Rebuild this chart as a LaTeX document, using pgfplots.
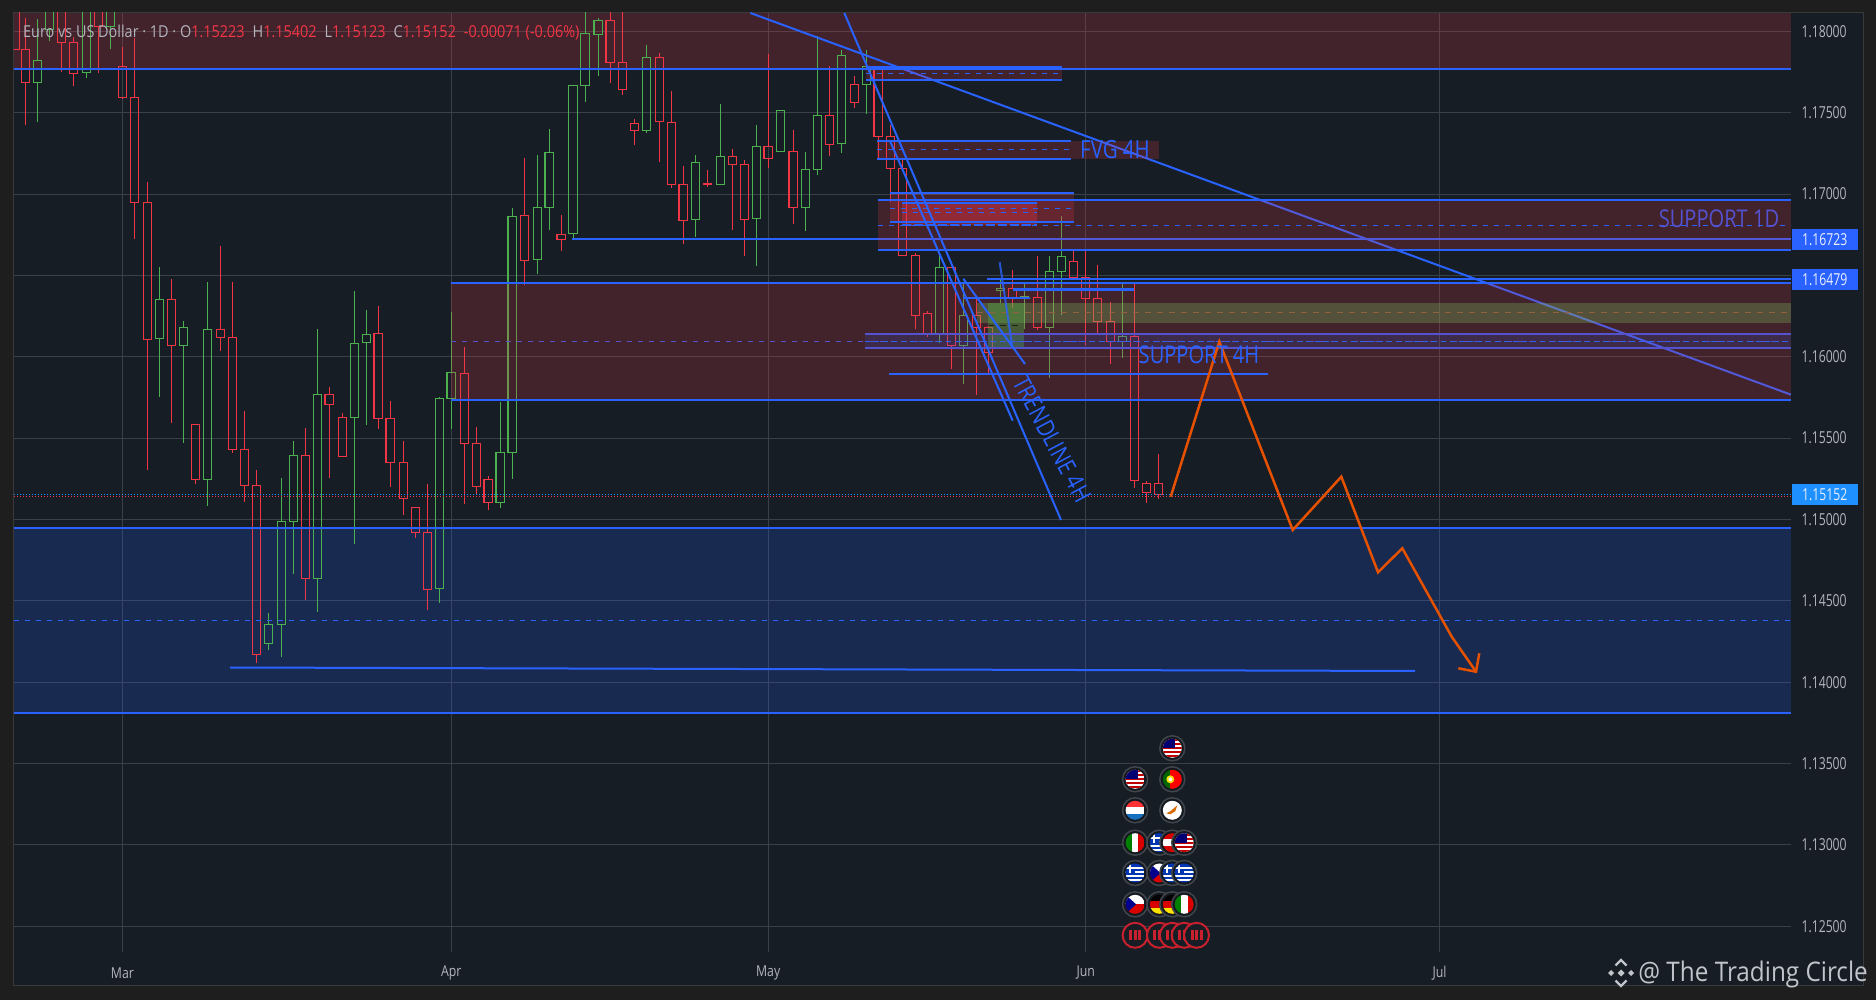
\documentclass[border=0pt]{standalone}
\usepackage{pgfplots}
\pgfplotsset{compat=1.18}
\usepackage{fontspec}
\setmainfont{Open Sans}
\newfontfamily\tv[FakeStretch=0.82]{Open Sans}
\newfontfamily\hd[FakeStretch=0.88]{Open Sans}
\newfontfamily\tvn[FakeStretch=0.74]{Open Sans}
\newfontfamily\wm[FakeStretch=0.9]{Open Sans}
\definecolor{outer}{HTML}{1E1E1E}
\definecolor{panel}{HTML}{161D25}
\definecolor{gridc}{HTML}{3A4047}
\definecolor{cr}{HTML}{F23645}
\definecolor{cg}{HTML}{4CAF50}
\definecolor{bl}{HTML}{2962FF}
\definecolor{lastp}{HTML}{1E90FF}
\definecolor{evr}{HTML}{C8202D}
\definecolor{pu}{HTML}{5552D0}
\definecolor{txt}{HTML}{B2B5BE}
\definecolor{orng}{HTML}{E65100}
\definecolor{oliv}{RGB}{126,190,95}
\definecolor{gsq}{RGB}{76,175,70}
\newcommand\Body[6]{%
  \pgfmathsetmacro\xa{#2-4.2}\pgfmathsetmacro\xb{#2+4.2}%
  \edef\tmp{\noexpand\addplot[#1,line width=1.1pt,unbounded coords=jump] coordinates {(#2,#3)(#2,#4)(#2,nan)(\xa,#4)(\xb,#4)(\xb,#5)(\xa,#5)(\xa,#4)(\xa,nan)(#2,#5)(#2,#6)};}\tmp}
\newcommand\R[5]{\Body{cr}{#1}{#3}{#2}{#5}{#4}}
\newcommand\G[5]{\Body{cg}{#1}{#3}{#5}{#2}{#4}}
\newcommand\Zone[6]{\addplot[draw=none,fill=#5,fill opacity=#6] coordinates {(#1,#3)(#2,#3)(#2,#4)(#1,#4)} --cycle;}
\newcommand\HL[4][bl,line width=2pt]{\addplot[#1] coordinates {(#2,#4)(#3,#4)};}
\newcommand\DL[3]{\addplot[bl,line width=1pt,dash pattern=on 5pt off 6pt] coordinates {(#1,#3)(#2,#3)};}
% flags
\newcommand\ring[2]{\fill[fill=black!15!panel,draw=white!18!panel,line width=1.5pt] (#1,{1000-#2}) circle (12.5);}
\newcommand\flag[3]{\ring{#1}{#2}\begin{scope}\clip (#1,{1000-#2}) circle (9.5);\begin{scope}[shift={(#1,{1000-#2})}]#3\end{scope}\end{scope}}
\newcommand\US{\fill[white] (-10,-10) rectangle (10,10);\foreach \k in {-9,-5,-1,3,7}{\fill[red!75!black] (-10,\k) rectangle (10,\k+2);}\fill[blue!45!black] (-10,0) rectangle (3,10);}
\newcommand\IT{\fill[green!50!black] (-10,-10) rectangle (-3.3,10);\fill[white] (-3.3,-10) rectangle (3.3,10);\fill[red!85!black] (3.3,-10) rectangle (10,10);}
\newcommand\GR{\fill[blue!70!cyan!70!black] (-10,-10) rectangle (10,10);\foreach \k in {-8,-4,0,4}{\fill[white] (-10,\k) rectangle (10,\k+2);}\fill[blue!70!cyan!70!black] (-10,0) rectangle (0,10);\fill[white] (-10,4) rectangle (0,6);\fill[white] (-6,0) rectangle (-4,10);}
\newcommand\DE{\fill[black] (-10,3.3) rectangle (10,10);\fill[red!85!black] (-10,-3.3) rectangle (10,3.3);\fill[yellow!85!orange] (-10,-10) rectangle (10,-3.3);}
\newcommand\CZ{\fill[white] (-10,0) rectangle (10,10);\fill[red!85!black] (-10,-10) rectangle (10,0);\fill[blue!55!black] (-10,10)--(1,0)--(-10,-10)--cycle;}
\newcommand\LU{\fill[red!80] (-10,3.3) rectangle (10,10);\fill[white] (-10,-3.3) rectangle (10,3.3);\fill[cyan!50!blue] (-10,-10) rectangle (10,-3.3);}
\newcommand\PT{\fill[green!40!black] (-10,-10) rectangle (-2,10);\fill[red] (-2,-10) rectangle (10,10);\fill[yellow!80!orange] (-2,0) circle (4);\fill[white] (-2,0) circle (2);}
\newcommand\CY{\fill[white] (-10,-10) rectangle (10,10);\fill[orange!85!black] (-6,-3)--(-2,-1)--(5,5)--(3,-1)--(-2,-4)--cycle;}
\newcommand\AT{\fill[red!85!black] (-10,-10) rectangle (10,10);\fill[white] (-10,-3.3) rectangle (10,3.3);}
\newcommand\ev[1]{\fill[fill=panel,draw=evr,line width=2pt] (#1,{1000-935.3}) circle (12.5);\begin{scope}[shift={(#1,{1000-935.3})}]\fill[evr] (-6,-5) rectangle (-3,5);\fill[evr] (-1.5,-5) rectangle (1.5,5);\fill[evr] (3,-5) rectangle (6,5);\end{scope}}
\begin{document}
\begin{tikzpicture}[x=1pt,y=1pt]
\useasboundingbox (0,0) rectangle (1876,1000);
\fill[outer] (0,0) rectangle (1876,1000);
\fill[panel,draw=white!12!outer,line width=1pt] (13.5,14) rectangle (1863,987);
\begin{axis}[
  at={(13.5pt,987pt)},anchor=north west,scale only axis,width=1777.5pt,height=939pt,
  xmin=13.5,xmax=1791,ymin=1.123423,ymax=1.181125,
  axis line style={draw=none},tick style={draw=none},
  grid=major,grid style={gridc,line width=1pt},
  xtick={122.4,451.2,768.2,1085.7,1439.6},xticklabels={Mar,Apr,May,Jun,Jul},
  ytick={1.125,1.13,1.135,1.14,1.145,1.15,1.155,1.16,1.165,1.17,1.175,1.18},
  yticklabels={1.12500,1.13000,1.13500,1.14000,1.14500,1.15000,1.15500,1.16000,,1.17000,1.17500,1.18000},
  yticklabel pos=right,
  yticklabel style={font=\fontsize{16.5}{16.5}\selectfont\tvn,text=txt,anchor=west,xshift=7pt},
  xticklabel style={font=\fontsize{15}{15}\selectfont\tv,text=txt,anchor=center,yshift=-21pt},
]
% zones beneath candles
\Zone{13.5}{1791}{1.181125}{1.177702}{cr}{0.2}
\Zone{13.5}{1791}{1.149478}{1.13811}{bl}{0.2}
% candles: x, open, high, low, close
\R{15.1}{1.18200}{1.18200}{1.17889}{1.17889}
\R{25.5}{1.17889}{1.18080}{1.17425}{1.17687}
\G{37.5}{1.17687}{1.18076}{1.17445}{1.17822}
\G{49.4}{1.18012}{1.18200}{1.17943}{1.18200}
\R{61.4}{1.18200}{1.18200}{1.17752}{1.17930}
\R{73.3}{1.17932}{1.17963}{1.17666}{1.17742}
\G{86.5}{1.17748}{1.18200}{1.17715}{1.18200}
\R{98.4}{1.18200}{1.18200}{1.17746}{1.18029}
\G{110.4}{1.18031}{1.18200}{1.17894}{1.18200}
\R{122.4}{1.17785}{1.17906}{1.17582}{1.17595}
\R{134.3}{1.17595}{1.17957}{1.16726}{1.16949}
\R{147.5}{1.16949}{1.17074}{1.15305}{1.16108}
\G{159.4}{1.16114}{1.16552}{1.15755}{1.16353}
\R{171.4}{1.16353}{1.16478}{1.15596}{1.16071}
\G{183.3}{1.16071}{1.16220}{1.15467}{1.16181}
\R{195.3}{1.15585}{1.15585}{1.15221}{1.15247}
\G{207.3}{1.15247}{1.16460}{1.15080}{1.16169}
\R{220.4}{1.16169}{1.16681}{1.16038}{1.16120}
\R{232.4}{1.16120}{1.16460}{1.15411}{1.15432}
\R{244.3}{1.15432}{1.15667}{1.15110}{1.15211}
\R{256.3}{1.15211}{1.15305}{1.14121}{1.14172}
\G{268.3}{1.14240}{1.14424}{1.14201}{1.14357}
\G{281.3}{1.14357}{1.15254}{1.14152}{1.14989}
\G{293.3}{1.14989}{1.15481}{1.14668}{1.15395}
\R{305.3}{1.15395}{1.15561}{1.14508}{1.14639}
\G{317.3}{1.14639}{1.16169}{1.14434}{1.15770}
\R{329.2}{1.15770}{1.15815}{1.15258}{1.15708}
\R{342.4}{1.15626}{1.15653}{1.15389}{1.15389}
\G{354.3}{1.15628}{1.16403}{1.14852}{1.16083}
\G{366.3}{1.16089}{1.16286}{1.15583}{1.16138}
\R{378.2}{1.16145}{1.16310}{1.15559}{1.15622}
\R{390.2}{1.15622}{1.15727}{1.15202}{1.15352}
\R{403.3}{1.15352}{1.15481}{1.15030}{1.15131}
\R{415.3}{1.15075}{1.15075}{1.14885}{1.14922}
\R{427.3}{1.14922}{1.15217}{1.14441}{1.14572}
\G{439.3}{1.14578}{1.15753}{1.14484}{1.15745}
\G{451.2}{1.15745}{1.16276}{1.15559}{1.15905}
\R{464.3}{1.15899}{1.16059}{1.15098}{1.15469}
\R{476.3}{1.15469}{1.15567}{1.15157}{1.15204}
\R{488.2}{1.15247}{1.15268}{1.15061}{1.15106}
\G{500.2}{1.15106}{1.15723}{1.15073}{1.15413}
\G{512.2}{1.15413}{1.16913}{1.15250}{1.16863}
\R{524.5}{1.16870}{1.17220}{1.16441}{1.16593}
\G{537.3}{1.16599}{1.17240}{1.16509}{1.16919}
\G{549.2}{1.16919}{1.17398}{1.16779}{1.17257}
\R{561.2}{1.16753}{1.16872}{1.16652}{1.16722}
\G{573.1}{1.16759}{1.17668}{1.16722}{1.17668}
\G{585.1}{1.17668}{1.18200}{1.17568}{1.17988}
\G{598.2}{1.17982}{1.18082}{1.17726}{1.18068}
\R{610.2}{1.18068}{1.18200}{1.17681}{1.17810}
\R{622.3}{1.17810}{1.18200}{1.17609}{1.17644}
\R{634.3}{1.17435}{1.17461}{1.17302}{1.17390}
\G{646.4}{1.17390}{1.17916}{1.17377}{1.17840}
\R{659.3}{1.17840}{1.17869}{1.17199}{1.17445}
\R{671.4}{1.17441}{1.17633}{1.17039}{1.17060}
\R{683.2}{1.17060}{1.17173}{1.16695}{1.16839}
\G{695.4}{1.16843}{1.17240}{1.16738}{1.17195}
\R{707.5}{1.17066}{1.17148}{1.17046}{1.17058}
\G{720.4}{1.17058}{1.17554}{1.17058}{1.17232}
\R{732.5}{1.17232}{1.17277}{1.16779}{1.17183}
\R{744.3}{1.17183}{1.17209}{1.16622}{1.16843}
\G{756.4}{1.16849}{1.17425}{1.16560}{1.17293}
\R{768.2}{1.17293}{1.17861}{1.17162}{1.17218}
\G{780.4}{1.17263}{1.17515}{1.17263}{1.17515}
\R{793.2}{1.17263}{1.17394}{1.16818}{1.16917}
\G{805.4}{1.16917}{1.17259}{1.16775}{1.17152}
\G{817.5}{1.17150}{1.17971}{1.17119}{1.17484}
\R{829.3}{1.17484}{1.17787}{1.17234}{1.17304}
\G{841.4}{1.17312}{1.17885}{1.17255}{1.17853}
\R{854.3}{1.17674}{1.17726}{1.17531}{1.17562}
\G{866.4}{1.17674}{1.17885}{1.17494}{1.17785}
\R{878.2}{1.17785}{1.17785}{1.17220}{1.17353}
\R{890.4}{1.17355}{1.17425}{1.16953}{1.17158}
\R{902.5}{1.17158}{1.17220}{1.16622}{1.16622}
\R{915.3}{1.16624}{1.16636}{1.16173}{1.16255}
\R{927.3}{1.16267}{1.16280}{1.16124}{1.16145}
\G{939.3}{1.16145}{1.16644}{1.16087}{1.16550}
\R{951.3}{1.16550}{1.16550}{1.15927}{1.16071}
\G{963.3}{1.16071}{1.16460}{1.15835}{1.16255}
\R{976.3}{1.16255}{1.16362}{1.15768}{1.16181}
\R{988.3}{1.16181}{1.16194}{1.15891}{1.16028}
\G{1000.3}{1.16409}{1.16476}{1.16333}{1.16421}
\R{1012.3}{1.16421}{1.16534}{1.16302}{1.16366}
\G{1024.3}{1.16362}{1.16460}{1.16173}{1.16368}
\R{1037.3}{1.16366}{1.16620}{1.16165}{1.16181}
\G{1049.3}{1.16181}{1.16620}{1.15872}{1.16525}
\G{1061.3}{1.16525}{1.16865}{1.16259}{1.16618}
\R{1073.3}{1.16587}{1.16648}{1.16489}{1.16489}
\R{1085.3}{1.16489}{1.16648}{1.16071}{1.16360}
\R{1097.3}{1.16360}{1.16564}{1.16145}{1.16218}
\R{1110.3}{1.16218}{1.16337}{1.15958}{1.16095}
\G{1122.3}{1.16095}{1.16460}{1.15995}{1.16126}
\R{1134.3}{1.16126}{1.16448}{1.15192}{1.15241}
\R{1146.3}{1.15223}{1.15235}{1.15100}{1.15168}
\R{1158.3}{1.15223}{1.15402}{1.15123}{1.15152}
% lines under the resistance zones
\addplot[bl,line width=2pt] coordinates {(750.4,1.181125)(1791,1.157669)};
\HL{572.3}{1791}{1.167237}
% zones
\Zone{866.4}{1061.8}{1.177763}{1.177007}{cr}{0.2}
\Zone{877}{1158.6}{1.17324}{1.172153}{cr}{0.2}
\Zone{877.9}{1791}{1.169615}{1.166542}{cr}{0.2}
\Zone{889.6}{1073.6}{1.170064}{1.1683}{cr}{0.2}
\Zone{902}{1037}{1.169431}{1.168097}{cr}{0.3}
\Zone{451.2}{1791}{1.164502}{1.157343}{cr}{0.2}
\Zone{976.7}{1791}{1.163286}{1.162094}{oliv}{0.3}
\Zone{988}{1024}{1.163286}{1.160477}{gsq}{0.4}
\Zone{865.3}{1791}{1.161418}{1.160539}{bl}{0.15}
% level lines
\HL{13.5}{1791}{1.177702}
\HL[bl,line width=3pt]{866.4}{1061.8}{1.177763}
\HL{866.4}{1061.8}{1.177007}
\DL{866.4}{1061.8}{1.177376}
\HL{877}{1070.7}{1.17324}
\HL{877}{1070.7}{1.172153}
\DL{877}{1070.7}{1.172706}
\HL{877.9}{1791}{1.169615}
\HL{877.9}{1791}{1.166542}
\DL{877.9}{1791}{1.168079}
\HL{889.6}{1073.6}{1.170064}
\HL{889.6}{1073.6}{1.1683}
\DL{889.6}{1073.6}{1.169123}
\HL{902}{1037}{1.169431}
\DL{902}{1037}{1.168835}
\addplot[bl,line width=2pt,dash pattern=on 9pt off 3pt] coordinates {(902,1.168097)(1037,1.168097)};
\HL{987}{1791}{1.164779}
\HL{451.2}{1791}{1.164502}
\HL{451.2}{1791}{1.157343}
\addplot[pu,line width=1.5pt,dash pattern=on 5pt off 6pt] coordinates {(451.2,1.160926)(1791,1.160926)};
\HL[bl,line width=3pt]{1013}{1134}{1.164146}
\HL{963}{1030}{1.163611}
\addplot[black!35!oliv!60!cr,line width=1pt,dash pattern=on 6pt off 6pt] coordinates {(976.7,1.162733)(1791,1.162733)};
\addplot[black,line width=1.2pt,dash pattern=on 6pt off 6pt,opacity=.6] coordinates {(988,1.161909)(1024,1.161909)};
\HL[pu,line width=2pt]{865.3}{1791}{1.161418}
\HL[pu,line width=2pt]{865.3}{1791}{1.160539}
\addplot[bl!80!pu,line width=1pt,dash pattern=on 5pt off 4pt] coordinates {(865.3,1.16095)(1791,1.16095)};
\HL{889.3}{1268}{1.15896}
\HL{13.5}{1791}{1.149478}
\HL{13.5}{1791}{1.13811}
\addplot[bl,line width=1.2pt,dash pattern=on 5pt off 6pt] coordinates {(13.5,1.143788)(1791,1.143788)};
\addplot[bl,line width=2pt] coordinates {(230,1.140905)(1415,1.14069)};
% trend lines
\addplot[bl,line width=2pt] coordinates {(844.3,1.181125)(1061,1.149969)};
\addplot[bl,line width=2pt] coordinates {(890,1.17326)(1012.7,1.156071)};
\addplot[bl,line width=2pt] coordinates {(963.3,1.164797)(1025,1.159556)};
\addplot[bl,line width=2pt,opacity=.8] coordinates {(999.7,1.165805)(1012,1.160723)};
% last price
\addplot[lastp,line width=1pt,dash pattern=on 1pt off 2pt] coordinates {(13.5,1.151506)(1791,1.151506)};
\addplot[cr,line width=1pt,dash pattern=on 1pt off 2pt] coordinates {(13.5,1.151426)(1791,1.151426)};
% projected path
\addplot[orng,line width=2.5pt,line join=miter] coordinates {(1170.7,1.151401)(1219.3,1.160926)(1292.7,1.149355)(1341.3,1.15263)(1378,1.146756)(1402.3,1.14823)(1451.7,1.142798)(1476,1.140647)};
\addplot[orng,line width=2.5pt] coordinates {(1458.3,1.140856)(1476,1.140647)(1479.3,1.141778)};
\end{axis}
% header
\node[anchor=base west,inner sep=0,font=\fontsize{16.4}{16.4}\selectfont\hd,text=txt] at (23,{1000-38}) {Euro vs US Dollar · 1D · O\textcolor{cr}{1.15223}\hspace{8pt}H\textcolor{cr}{1.15402}\hspace{8pt}L\textcolor{cr}{1.15123}\hspace{8pt}C\textcolor{cr}{1.15152}\hspace{8pt}\textcolor{cr}{-0.00071 (-0.06\%)}};
% drawing labels
\node[inner sep=0,font=\fontsize{25}{25}\selectfont\tv,text=bl] at (1115,{1000-150}) {FVG 4H};
\node[inner sep=0,font=\fontsize{24.5}{24.5}\selectfont\tv,text=pu] at (1719,{1000-219}) {SUPPORT 1D};
\node[inner sep=0,font=\fontsize{24.5}{24.5}\selectfont\tv,text=bl] at (1199,{1000-355}) {SUPPORT 4H};
\node[inner sep=0,rotate=-62,font=\fontsize{24.5}{24.5}\selectfont\tv,text=bl] at (1052,{1000-439}) {TRENDLINE 4H};
% last price boxes
\foreach \yy/\tt/\cc in {239.5/1.16723/bl,279.5/1.16479/bl,494.5/1.15152/lastp}{
  \fill[\cc] (1792,{1000-\yy-10.5}) rectangle (1858,{1000-\yy+10.5});
  \node[anchor=west,inner sep=0,font=\fontsize{16.5}{16.5}\selectfont\tvn,text=white!90!bl] at (1802,{1000-\yy}) {\tt};
}
% event icons
\flag{1172.3}{748.3}{\US}
\flag{1135.1}{779.3}{\US}\flag{1172.3}{779.3}{\PT}
\flag{1135.1}{810.3}{\LU}\flag{1172.3}{810.3}{\CY}
\flag{1135.1}{842.7}{\IT}\flag{1159.4}{842.7}{\GR}\flag{1172.3}{842.7}{\AT}\flag{1184.2}{842.7}{\US}
\flag{1135.1}{873}{\GR}\flag{1159.4}{873}{\CZ}\flag{1172.3}{873}{\GR}\flag{1184.2}{873}{\GR}
\flag{1135.1}{904.3}{\CZ}\flag{1159.4}{904.3}{\DE}\flag{1172.3}{904.3}{\DE}\flag{1184.2}{904.3}{\IT}
\ev{1135.1}\ev{1159.4}\ev{1172.3}\ev{1184.2}\ev{1196.5}
% watermark
\begin{scope}[shift={(1621,{1000-973})}]
\fill[txt!80!white] (0,-3.5)--(3.5,0)--(0,3.5)--(-3.5,0)--cycle;
\fill[txt!80!white] (-10,-3)--(-7,0)--(-10,3)--(-13,0)--cycle;
\fill[txt!80!white] (10,-3)--(7,0)--(10,3)--(13,0)--cycle;
\draw[txt!80!white,line width=2.2pt] (-5.5,7.5)--(0,13)--(5.5,7.5);
\draw[txt!80!white,line width=2.2pt] (-5.5,-7.5)--(0,-13)--(5.5,-7.5);
\end{scope}
\node[anchor=east,inner sep=0,font=\fontsize{27}{27}\selectfont\wm,text=txt!80!white] at (1868,{1000-974}) {@ The Trading Circle};
\end{tikzpicture}
\end{document}
